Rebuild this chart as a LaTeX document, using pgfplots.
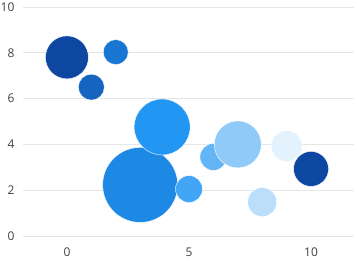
\documentclass[border=0pt]{standalone}
\usepackage{fontspec}
\setmainfont{Open Sans}
\usepackage{pgfplots}
\pgfplotsset{compat=1.18}
\definecolor{b1}{HTML}{0D47A1}
\definecolor{b2}{HTML}{1565C0}
\definecolor{b3}{HTML}{1976D2}
\definecolor{b4}{HTML}{1E88E5}
\definecolor{b5}{HTML}{2196F3}
\definecolor{b6}{HTML}{42A5F5}
\definecolor{b7}{HTML}{64B5F6}
\definecolor{b8}{HTML}{90CAF9}
\definecolor{b9}{HTML}{BBDEFB}
\definecolor{b10}{HTML}{E3F2FD}
\definecolor{gridc}{HTML}{E6E6E6}
\definecolor{labc}{HTML}{404040}
\begin{document}
\begin{tikzpicture}
\useasboundingbox (-23pt,-25pt) rectangle (335pt,236pt);
\begin{axis}[
  at={(0,0)}, anchor=south west,
  scale only axis, width=331pt, height=229pt,
  xmin=-1.8, xmax=11.76, ymin=0, ymax=10,
  xtick={0,5,10}, ytick={0,2,4,6,8,10},
  axis line style={draw=none},
  major tick length=0pt,
  ymajorgrids, grid style={gridc, line width=0.8pt},
  tick label style={font=\fontsize{12pt}{14pt}\selectfont, text=labc},
  /pgf/number format/assume math mode=true,
  xticklabel style={yshift=-8pt},
  yticklabel style={xshift=-5pt},
  clip=false,
]
\addplot[only marks, mark=*, mark size=21.5pt, mark options={fill=b1, draw=white, line width=0.4pt}] coordinates {(0,7.8)};
\addplot[only marks, mark=*, mark size=13pt, mark options={fill=b2, draw=white, line width=0.4pt}] coordinates {(1,6.5)};
\addplot[only marks, mark=*, mark size=12.5pt, mark options={fill=b3, draw=white, line width=0.4pt}] coordinates {(2,8.03)};
\addplot[only marks, mark=*, mark size=37.5pt, mark options={fill=b4, draw=white, line width=0.4pt}] coordinates {(3,2.23)};
\addplot[only marks, mark=*, mark size=28pt, mark options={fill=b5, draw=white, line width=0.4pt}] coordinates {(3.9,4.76)};
\addplot[only marks, mark=*, mark size=13.5pt, mark options={fill=b6, draw=white, line width=0.4pt}] coordinates {(5,2.05)};
\addplot[only marks, mark=*, mark size=13.5pt, mark options={fill=b7, draw=white, line width=0.4pt}] coordinates {(6,3.45)};
\addplot[only marks, mark=*, mark size=23.5pt, mark options={fill=b8, draw=white, line width=0.4pt}] coordinates {(7,4.0)};
\addplot[only marks, mark=*, mark size=14.5pt, mark options={fill=b9, draw=white, line width=0.4pt}] coordinates {(8,1.48)};
\addplot[only marks, mark=*, mark size=15.5pt, mark options={fill=b10, draw=white, line width=0.4pt}] coordinates {(9,3.93)};
\addplot[only marks, mark=*, mark size=17.5pt, mark options={fill=b1, draw=white, line width=0.4pt}] coordinates {(10,2.93)};
\end{axis}
\end{tikzpicture}
\end{document}
